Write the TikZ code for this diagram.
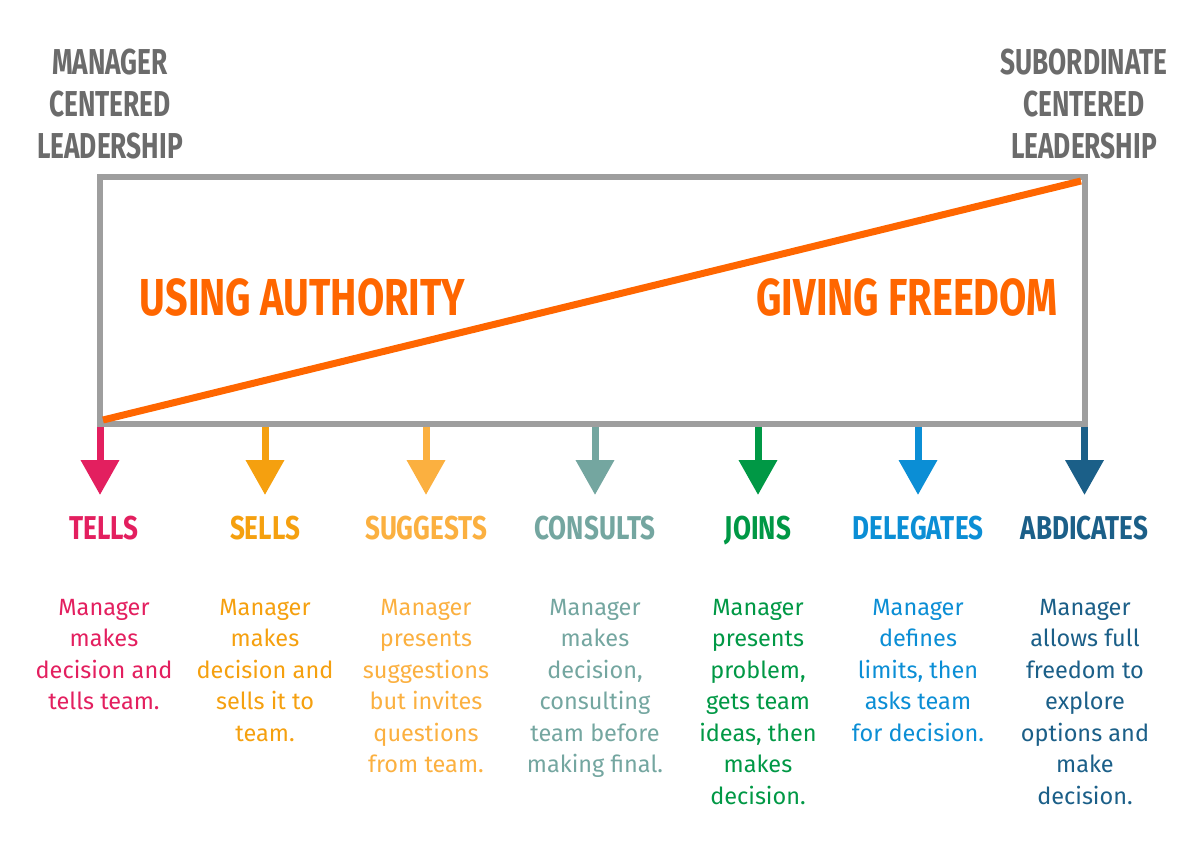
\documentclass[tikz,border=0pt]{standalone}
\usepackage{fontspec}
\setmainfont{Fira Sans}
\newfontfamily\headfont[FakeStretch=0.73]{Fira Sans}
\newfontfamily\bigfont[FakeStretch=0.76]{Fira Sans}
\newfontfamily\labfont[FakeStretch=0.79]{Fira Sans}
\usetikzlibrary{arrows.meta}
\definecolor{boxgray}{HTML}{9E9E9E}
\definecolor{txtgray}{HTML}{6B6B6B}
\definecolor{orng}{HTML}{FF6600}
\definecolor{cTells}{HTML}{E31F5F}
\definecolor{cSells}{HTML}{F5A00F}
\definecolor{cSugg}{HTML}{FBB040}
\definecolor{cCons}{HTML}{74A6A0}
\definecolor{cJoins}{HTML}{009845}
\definecolor{cDeleg}{HTML}{0B8ED5}
\definecolor{cAbdic}{HTML}{1B5F88}
\tikzset{
  corner/.style={font=\headfont\bfseries\fontsize{36}{42}\selectfont, text=txtgray, align=center, inner sep=0},
  bigword/.style={font=\bigfont\bfseries\fontsize{52}{60}\selectfont, text=orng, inner sep=0, anchor=base},
  style label/.style={font=\labfont\bfseries\fontsize{33}{40}\selectfont, inner sep=0, anchor=base},
  desc/.style={font=\fontsize{23.5}{31.5}\selectfont, align=center, inner sep=0, anchor=north},
  down arrow/.style={line width=7, -{Triangle[width=37pt,length=35pt]}}
}
\begin{document}
\begin{tikzpicture}[x=1pt,y=-1pt]
\useasboundingbox (0,0) rectangle (1201,861);
\node[corner] (mgr) at (110,104) {MANAGER\\CENTERED\\LEADERSHIP};
\node[corner] (sub) at (1084,104) {SUBORDINATE\\CENTERED\\LEADERSHIP};
\node[draw=boxgray, line width=6, minimum width=984.5, minimum height=247, inner sep=0] (box) at (592.25,300.5) {};
\coordinate (o1) at (103,420);
\coordinate (o2) at (1081,181);
\draw[orng, line width=7] (o1) -- (o2);
\node[bigword] (ua) at (302.5,315) {USING AUTHORITY};
\node[bigword] (gf) at (907,315) {GIVING FREEDOM};
\foreach \n/\x/\lx/\c/\t in {tells/100/104/cTells/TELLS, sells/265/265/cSells/SELLS, sugg/426/426/cSugg/SUGGESTS, cons/595/595/cCons/CONSULTS, joins/758/758/cJoins/JOINS, deleg/918/918/cDeleg/DELEGATES, abdic/1084.5/1084.5/cAbdic/ABDICATES}{
  \node[style label, text=\c] (\n) at (\lx,539) {\t};
  \coordinate (\n top) at (\x,427);
  \coordinate (\n tip) at (\x,495);
  \draw[down arrow, \c] (\n top) -- (\n tip);
}
\node[desc, text=cTells] (dtells) at (104,599) {Manager\\makes\\decision and\\tells team.};
\node[desc, text=cSells] (dsells) at (265,599) {Manager\\makes\\decision and\\sells it to\\team.};
\node[desc, text=cSugg] (dsugg) at (426,599) {Manager\\presents\\suggestions\\but invites\\questions\\from team.};
\node[desc, text=cCons] (dcons) at (595,599) {Manager\\makes\\decision,\\consulting\\team before\\making final.};
\node[desc, text=cJoins] (djoins) at (758,599) {Manager\\presents\\problem,\\gets team\\ideas, then\\makes\\decision.};
\node[desc, text=cDeleg] (ddeleg) at (918,599) {Manager\\defines\\limits, then\\asks team\\for decision.};
\node[desc, text=cAbdic] (dabdic) at (1085,599) {Manager\\allows full\\freedom to\\explore\\options and\\make\\decision.};
\end{tikzpicture}
\end{document}
